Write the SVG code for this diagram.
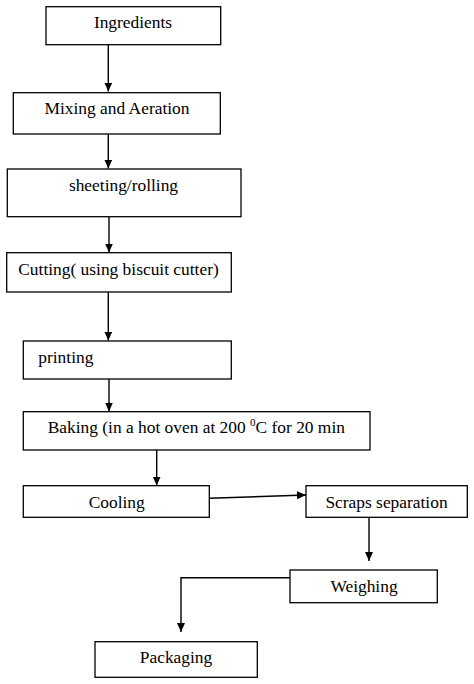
<svg xmlns="http://www.w3.org/2000/svg" width="474" height="684" viewBox="0 0 474 684">
<style>
.b{fill:#fff;stroke:#000;stroke-width:1.3}
text{font-family:"Liberation Serif","Times New Roman",serif;font-size:17.4px;fill:#000}
.c{text-anchor:middle}
.ln{fill:none;stroke:#000;stroke-width:1.4}
</style>
<defs>
<marker id="ah" markerWidth="10" markerHeight="10" refX="9" refY="4" orient="auto" markerUnits="userSpaceOnUse">
<path d="M0,0 L9,4 L0,8 Z" fill="#000"/>
</marker>
</defs>
<rect width="474" height="684" fill="#fff"/>
<g id="connectors">
<line class="ln" x1="108.3" y1="44.7" x2="108.3" y2="91.5" marker-end="url(#ah)"/>
<line class="ln" x1="108.3" y1="134" x2="108.3" y2="168.5" marker-end="url(#ah)"/>
<line class="ln" x1="109" y1="216.7" x2="109" y2="252.5" marker-end="url(#ah)"/>
<line class="ln" x1="108.3" y1="292" x2="108.3" y2="340.5" marker-end="url(#ah)"/>
<line class="ln" x1="109" y1="379" x2="109" y2="411.5" marker-end="url(#ah)"/>
<line class="ln" x1="156.7" y1="450" x2="156.7" y2="485.5" marker-end="url(#ah)"/>
<line class="ln" x1="209.3" y1="498.3" x2="306" y2="495" marker-end="url(#ah)"/>
<line class="ln" x1="369" y1="517.3" x2="369" y2="561" marker-end="url(#ah)"/>
<polyline class="ln" points="290,577.7 181,577.7 181,632" marker-end="url(#ah)"/>
</g>
<g id="ingredients"><rect class="b" x="46" y="6.7" width="174.7" height="38"/><text class="c" x="133" y="28">Ingredients</text></g>
<g id="mixing"><rect class="b" x="13.3" y="92.7" width="207" height="41.3"/><text class="c" x="117" y="114">Mixing and Aeration</text></g>
<g id="sheeting"><rect class="b" x="7.3" y="169" width="233.7" height="47.7"/><text class="c" x="123.5" y="191">sheeting/rolling</text></g>
<g id="cutting"><rect class="b" x="6.7" y="252.7" width="224.6" height="39.3"/><text class="c" x="118.5" y="275">Cutting( using biscuit cutter)</text></g>
<g id="printing"><rect class="b" x="23.3" y="341" width="208" height="38"/><text x="38.3" y="363.3">printing</text></g>
<g id="baking"><rect class="b" x="23.3" y="411.7" width="346.7" height="38.3"/><text x="47.7" y="433">Baking (in a hot oven at 200 <tspan font-size="11" dy="-7">0</tspan><tspan dy="7">C for 20 min</tspan></text></g>
<g id="cooling"><rect class="b" x="23.3" y="485.7" width="186" height="31.6"/><text class="c" x="116.7" y="508.3">Cooling</text></g>
<g id="scraps"><rect class="b" x="306" y="485.7" width="161.3" height="31.6"/><text class="c" x="386.5" y="508.3">Scraps separation</text></g>
<g id="weighing"><rect class="b" x="290" y="570" width="147.3" height="32.7"/><text class="c" x="364" y="591.7">Weighing</text></g>
<g id="packaging"><rect class="b" x="95" y="641.7" width="162.3" height="35.6"/><text class="c" x="176" y="663.3">Packaging</text></g>
</svg>
